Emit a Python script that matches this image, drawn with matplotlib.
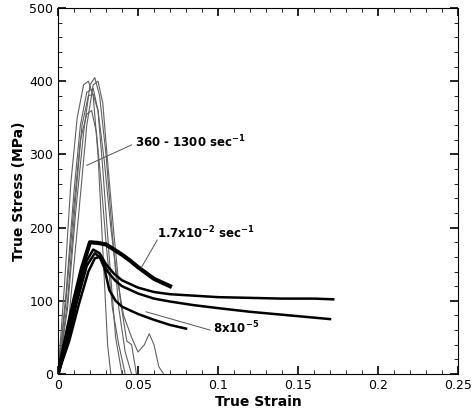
import matplotlib
matplotlib.use("Agg")
import matplotlib.pyplot as plt

# High-rate (gray) curves
g1_x = [0, 0.004, 0.008, 0.012, 0.016, 0.019, 0.022, 0.025, 0.028, 0.031, 0.033]
g1_y = [0, 120, 260, 350, 395, 400, 380, 300, 170, 40, 0]
g2_x = [0, 0.005, 0.010, 0.014, 0.018, 0.022, 0.025, 0.028, 0.032, 0.036, 0.040]
g2_y = [0, 110, 250, 340, 385, 390, 360, 280, 160, 50, 0]
g3_x = [0, 0.006, 0.011, 0.016, 0.020, 0.023, 0.026, 0.030, 0.034, 0.038, 0.042, 0.046]
g3_y = [0, 90, 220, 330, 395, 405, 380, 300, 190, 90, 30, 0]
g4_x = [0, 0.005, 0.010, 0.014, 0.018, 0.021, 0.024, 0.027, 0.030, 0.034, 0.038, 0.042]
g4_y = [0, 100, 230, 320, 355, 360, 330, 260, 180, 90, 40, 0]
g5_x = [0, 0.006, 0.011, 0.015, 0.019, 0.022, 0.025, 0.029, 0.033, 0.037, 0.041, 0.046, 0.050, 0.054, 0.057, 0.060, 0.063, 0.066]
g5_y = [0, 100, 240, 340, 380, 382, 360, 290, 200, 130, 80, 50, 30, 40, 55, 40, 10, 0]
g6_x = [0, 0.007, 0.013, 0.018, 0.022, 0.025, 0.028, 0.031, 0.035, 0.039, 0.043, 0.046, 0.049]
g6_y = [0, 80, 220, 340, 395, 400, 370, 290, 190, 100, 45, 40, 0]

# Quasi-static (black) curves
a_x = [0, 0.005, 0.010, 0.015, 0.020, 0.025, 0.030, 0.035, 0.040, 0.045, 0.050, 0.055, 0.060, 0.065, 0.070]
a_y = [0, 50, 100, 145, 180, 179, 177, 170, 163, 155, 146, 138, 130, 125, 120]
b_x = [0, 0.006, 0.012, 0.018, 0.022, 0.026, 0.030, 0.035, 0.040, 0.050, 0.060, 0.070, 0.085, 0.100, 0.120, 0.140, 0.160, 0.172]
b_y = [0, 50, 105, 155, 170, 165, 150, 137, 128, 118, 112, 109, 107, 105, 104, 103, 103, 102]
c_x = [0, 0.006, 0.012, 0.018, 0.023, 0.027, 0.031, 0.036, 0.040, 0.050, 0.060, 0.070, 0.085, 0.100, 0.120, 0.140, 0.160, 0.170]
c_y = [0, 45, 100, 148, 165, 158, 140, 127, 120, 110, 103, 99, 94, 90, 85, 81, 77, 75]
d_x = [0, 0.007, 0.013, 0.019, 0.023, 0.026, 0.029, 0.032, 0.036, 0.040, 0.050, 0.060, 0.070, 0.080]
d_y = [0, 45, 95, 140, 158, 160, 145, 115, 100, 92, 82, 74, 67, 62]

fig = plt.figure(figsize=(4.74, 4.18), dpi=100)
ax = fig.add_axes([58/474, 44/418, 400/474, 366/418])

for xs, ys in [(g1_x, g1_y), (g2_x, g2_y), (g3_x, g3_y), (g4_x, g4_y), (g5_x, g5_y), (g6_x, g6_y)]:
    ax.plot(xs, ys, color="#606060", lw=0.8)
ax.plot(a_x, a_y, color="black", lw=3.0)
for xs, ys in [(b_x, b_y), (c_x, c_y), (d_x, d_y)]:
    ax.plot(xs, ys, color="black", lw=1.8)

ax.set_xlim(0, 0.25)
ax.set_ylim(0, 500)
ax.set_xticks([0, 0.05, 0.1, 0.15, 0.2, 0.25])
ax.set_xticklabels(["0", "0.05", "0.1", "0.15", "0.2", "0.25"])
ax.set_yticks(range(0, 501, 100))
ax.set_xticks([i * 0.01 for i in range(26)], minor=True)
ax.set_yticks(range(0, 501, 20), minor=True)
ax.tick_params(which="both", direction="in", top=True, right=True, labelsize=9)
ax.tick_params(which="major", length=6, width=1.2)
ax.tick_params(which="minor", length=3)
ax.set_xlabel("True Strain", fontsize=10, fontweight="bold", labelpad=2)
ax.set_ylabel("True Stress (MPa)", fontsize=10, fontweight="bold", labelpad=2)

bold = dict(fontsize=8.5, fontweight="bold")
ax.text(0.048, 310, "360 - 1300 sec$^{\\mathbf{-1}}$", **bold)
ax.plot([0.018, 0.046], [285, 313], color="#555555", lw=0.7)
ax.text(0.062, 185, "1.7x10$^{\\mathbf{-2}}$ sec$^{\\mathbf{-1}}$", **bold)
ax.plot([0.052, 0.062], [145, 183], color="#555555", lw=0.7)
ax.text(0.097, 55, "8x10$^{\\mathbf{-5}}$", **bold)
ax.plot([0.055, 0.095], [85, 60], color="#555555", lw=0.7)

fig.savefig("out.png", dpi=100)
